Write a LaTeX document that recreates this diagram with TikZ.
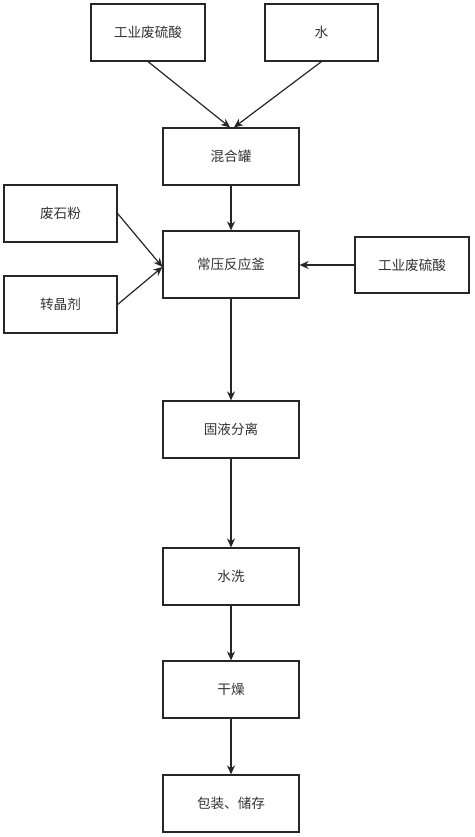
\documentclass[tikz,border=0pt]{standalone}
\usepackage{fontspec}
\setmainfont{Noto Sans CJK SC}
\usetikzlibrary{arrows.meta}
\definecolor{txt}{HTML}{333333}
\tikzset{
  box/.style={draw=black!85, line width=1.2pt, fill=white, minimum width=136pt, minimum height=57pt, inner sep=0pt, text=txt, font=\fontsize{13.6}{16}\selectfont},
  sbox/.style={box, minimum width=113pt},
  conn/.style={draw=black!85, line width=1.2pt, -{Stealth[length=9pt,width=8pt]}}
}
\begin{document}
\begin{tikzpicture}[x=1pt,y=-1pt]
\useasboundingbox (0,0) rectangle (474,837);
\node[sbox, minimum width=114pt] (acid1) at (148,32.5) {工业废硫酸};
\node[sbox] (water) at (321.5,32.5) {水};
\node[box] (mix) at (231,156.5) {混合罐};
\node[sbox] (stone) at (60.5,213.5) {废石粉};
\node[box, minimum height=67pt] (react) at (231,264.5) {常压反应釜};
\node[sbox] (agent) at (60.5,304.5) {转晶剂};
\node[sbox, minimum width=114pt, minimum height=56pt] (acid2) at (412,265) {工业废硫酸};
\node[box] (sep) at (231,429.5) {固液分离};
\node[box] (wash) at (231,576.5) {水洗};
\node[box] (dry) at (231,689.5) {干燥};
\node[box] (pack) at (231,803.5) {包装、储存};

\draw[conn] (acid1.south) -- ([xshift=-1pt]mix.north);
\draw[conn] (water.south) -- ([xshift=3pt]mix.north);
\draw[conn] (mix) -- (react);
\draw[conn] (stone.east) -- ([yshift=-2.5pt]react.west);
\draw[conn] (agent.east) -- ([yshift=-2.5pt]react.west);
\draw[conn] (acid2.west) -- (acid2.west -| react.east);
\draw[conn] (react) -- (sep);
\draw[conn] (sep) -- (wash);
\draw[conn] (wash) -- (dry);
\draw[conn] (dry) -- (pack);
\end{tikzpicture}
\end{document}
